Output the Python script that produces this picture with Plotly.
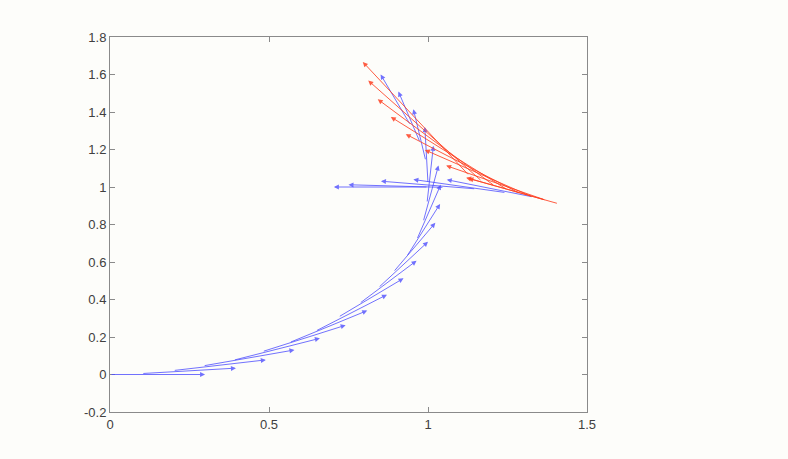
import plotly.graph_objects as go

# Blue quiver: tail positions (x, y) and vector components (u, v)
blue_x = [0.0, 0.1, 0.199, 0.293, 0.388, 0.479, 0.564, 0.646, 0.718, 0.784, 0.843, 0.891, 0.933,
          0.965, 0.985, 0.997, 1.0, 0.993, 0.975, 0.945,
          1.0, 1.05, 1.15, 1.245, 1.33]
blue_y = [0.0, 0.005, 0.021, 0.046, 0.076, 0.122, 0.170, 0.231, 0.306, 0.378, 0.461, 0.546, 0.629,
          0.72, 0.815, 0.915, 1.02, 1.14, 1.238, 1.33,
          1.0, 0.998, 0.99, 0.97, 0.947]
blue_u = [0.299, 0.296, 0.291, 0.287, 0.272, 0.262, 0.245, 0.225, 0.205, 0.18, 0.157, 0.132, 0.105,
          0.075, 0.048, 0.02, -0.01, -0.039, -0.068, -0.094,
          -0.296, -0.30, -0.298, -0.291, -0.271]
blue_v = [0.0, 0.029, 0.057, 0.085, 0.117, 0.141, 0.171, 0.195, 0.207, 0.229, 0.247, 0.263, 0.281,
          0.292, 0.30, 0.305, 0.30, 0.275, 0.271, 0.27,
          0.0, 0.014, 0.041, 0.07, 0.092]

# Red quiver
red_x = [1.41, 1.37, 1.37, 1.33, 1.29, 1.25, 1.21, 1.17, 1.13]
red_y = [0.911, 0.93, 0.93, 0.946, 0.965, 0.985, 1.005, 1.03, 1.06]
red_u = [-0.283, -0.25, -0.313, -0.34, -0.36, -0.367, -0.368, -0.358, -0.335]
red_v = [0.135, 0.12, 0.184, 0.252, 0.317, 0.389, 0.463, 0.538, 0.607]

x_ticks = [0, 0.5, 1, 1.5]
x_tick_text = ["0", "0.5", "1", "1.5"]
y_ticks = [-0.2, 0, 0.2, 0.4, 0.6, 0.8, 1, 1.2, 1.4, 1.6, 1.8]
y_tick_text = ["-0.2", "0", "0.2", "0.4", "0.6", "0.8", "1", "1.2", "1.4", "1.6", "1.8"]

BLUE = "rgba(75,75,255,0.78)"
RED = "rgba(255,65,35,0.85)"
BG = "#fdfdfa"

fig = go.Figure()
# invisible anchor trace
fig.add_trace(go.Scatter(x=blue_x + red_x, y=blue_y + red_y, mode="markers",
                         marker=dict(size=1, opacity=0), hoverinfo="skip", showlegend=False))

annotations = []
def add_quiver(xs, ys, us, vs, color):
    for x0, y0, u, v in zip(xs, ys, us, vs):
        annotations.append(dict(
            x=x0 + u, y=y0 + v, ax=x0, ay=y0,
            xref="x", yref="y", axref="x", ayref="y",
            text="", showarrow=True, arrowhead=2, arrowsize=1.0,
            arrowwidth=1, arrowcolor=color, standoff=0, startstandoff=0))

add_quiver(blue_x, blue_y, blue_u, blue_v, BLUE)
add_quiver(red_x, red_y, red_u, red_v, RED)

axis_common = dict(showgrid=False, zeroline=False, showline=True, linecolor="#8a8a8a",
                   linewidth=1, mirror="ticks", ticks="inside", ticklen=5,
                   tickcolor="#8a8a8a", tickfont=dict(family="Liberation Sans, Arial", size=13,
                                                     color="#404040"))

fig.update_layout(
    width=780, height=451,
    margin=dict(l=102, r=201, t=29, b=47),
    paper_bgcolor=BG, plot_bgcolor=BG,
    annotations=annotations,
    showlegend=False,
    xaxis=dict(range=[0, 1.5], tickvals=x_ticks, ticktext=x_tick_text, **axis_common),
    yaxis=dict(range=[-0.2, 1.8], tickvals=y_ticks, ticktext=y_tick_text, **axis_common),
)

fig.write_html("out.html", post_script="document.body.style.background='%s';" % BG)
